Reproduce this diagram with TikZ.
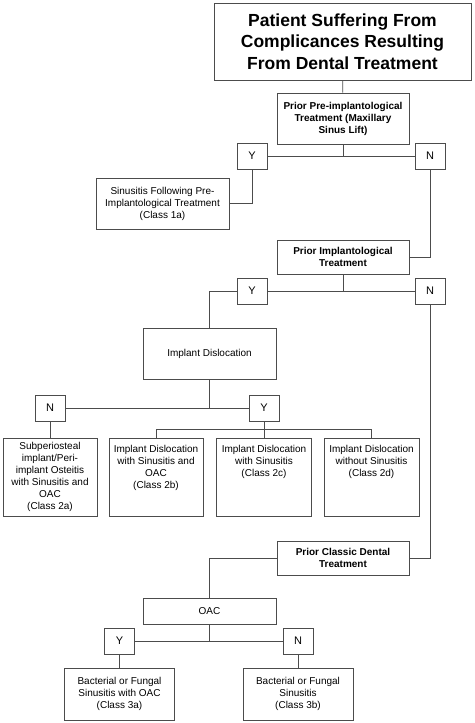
\documentclass[tikz,border=0pt]{standalone}
\usepackage{fontspec}
\setmainfont{Liberation Sans}
\usetikzlibrary{calc}
\tikzset{>=latex,%
  box/.style={draw=black!70,line width=0.8pt,align=center,inner sep=0pt,
    font=\fontsize{10}{12}\selectfont},
  yn/.style={box,minimum width=30pt,minimum height=26pt,
    font=\fontsize{11}{13}\selectfont},
  link/.style={draw=black!70,line width=0.8pt}}
\newcommand{\topbox}[2]{\parbox[c][70pt][t]{#1}{\centering\vspace{3pt}#2}}

\begin{document}
\begin{tikzpicture}[x=1pt,y=-1pt]
      \useasboundingbox (0,0) rectangle (474,723);
      \node[box,minimum width=257pt,minimum height=77pt,
        font=\fontsize{17.5}{21.5}\selectfont\bfseries] (patient) at (342.5,41.5)
        {Patient Suffering From\\Complicances Resulting\\From Dental Treatment};
      \node[box,minimum width=132pt,minimum height=51pt,font=\fontsize{10}{12}\selectfont\bfseries]
        (preimpl) at (343,118.5)
        {Prior Pre-implantological\\Treatment (Maxillary\\Sinus Lift)};
      \node[yn] (y1) at (252,156) {Y};
      \node[yn] (n1) at (430,156) {N};
      \node[box,minimum width=133pt,minimum height=51pt] (c1a) at (162.5,203.5)
        {Sinusitis Following Pre-\\Implantological Treatment\\(Class 1a)};
      \node[box,minimum width=132pt,minimum height=34pt,font=\fontsize{10}{12}\selectfont\bfseries]
        (implant) at (343,257) {Prior Implantological\\Treatment};
      \node[yn] (y2) at (252,291) {Y};
      \node[yn] (n2) at (430,291) {N};
      \node[box,minimum width=133pt,minimum height=51pt] (disl) at (209.5,353.5)
        {Implant Dislocation};
      \node[yn] (n3) at (50,408) {N};
      \node[yn] (y3) at (264,408) {Y};
      \node[box,minimum width=94pt,minimum height=78pt] (c2a) at (50,477)
        {Subperiosteal\\implant/Peri-\\implant Osteitis\\with Sinusitis and\\OAC\\(Class 2a)};
      \node[box,minimum width=94pt,minimum height=78pt] (c2b) at (156,477)
        {\topbox{92pt}{Implant Dislocation\\with Sinusitis and\\OAC\\(Class 2b)}};
      \node[box,minimum width=95pt,minimum height=78pt] (c2c) at (264,477)
        {\topbox{93pt}{Implant Dislocation\\with Sinusitis\\(Class 2c)}};
      \node[box,minimum width=95pt,minimum height=78pt] (c2d) at (371.5,477)
        {\topbox{93pt}{Implant Dislocation\\without Sinusitis\\(Class 2d)}};
      \node[box,minimum width=132pt,minimum height=34pt,font=\fontsize{10}{12}\selectfont\bfseries]
        (classic) at (343,558) {Prior Classic Dental\\Treatment};
      \node[box,minimum width=133pt,minimum height=26pt] (oac) at (209.5,611) {OAC};
      \node[yn] (y4) at (119.5,641) {Y};
      \node[yn] (n4) at (298,641) {N};
      \node[box,minimum width=110pt,minimum height=52pt] (c3a) at (119.5,694)
        {Bacterial or Fungal\\Sinusitis with OAC\\(Class 3a)};
      \node[box,minimum width=110pt,minimum height=52pt] (c3b) at (298,694)
        {Bacterial or Fungal\\Sinusitis\\(Class 3b)};
      \coordinate (bus) at ($(y3.south)+(0,8)$);
      % connectors
      \draw[link] (patient) -- (preimpl);
      \draw[link] (preimpl.south) -- (preimpl.south |- y1);
      \draw[link] (y1) -- (n1);
      \draw[link] (y1.south) |- (c1a.east);
      \draw[link] (n1.south) |- (implant.east);
      \draw[link] (implant.south) -- (implant.south |- y2);
      \draw[link] (y2) -- (n2);
      \draw[link] (y2.west) -| (disl.north);
      \draw[link] (disl.south) -- (disl.south |- n3);
      \draw[link] (n3) -- (y3);
      \draw[link] (n3) -- (c2a);
      \draw[link] (y3.south) -- (bus);
      \draw[link] (c2b.north) |- (bus) -| (c2d.north);
      \draw[link] (bus) -- (c2c.north);
      \draw[link] (n2.south) |- (classic.east);
      \draw[link] (classic.west) -| (oac.north);
      \draw[link] (oac.south) -- (oac.south |- y4);
      \draw[link] (y4) -- (n4);
      \draw[link] (y4) -- (c3a);
      \draw[link] (n4) -- (c3b);
    \end{tikzpicture}
\end{document}
